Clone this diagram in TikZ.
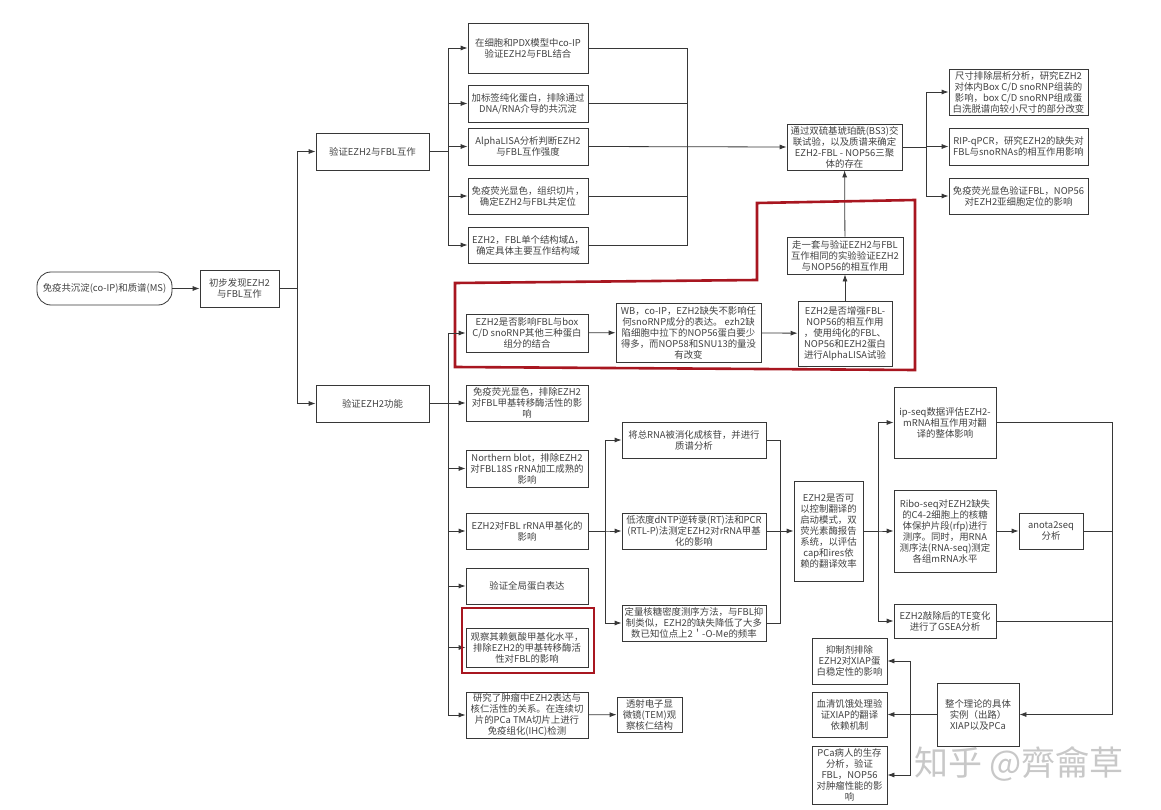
\documentclass[tikz,border=0pt]{standalone}
\usepackage{fontspec}
\setmainfont{Noto Sans CJK SC}
\usepackage{tikz}
\usetikzlibrary{arrows.meta, positioning, calc}
\usepackage{xcolor}
\definecolor{linegray}{RGB}{55,55,55}
\definecolor{textgray}{RGB}{65,65,65}
\definecolor{darkred}{RGB}{168,22,32}
\definecolor{wmgray}{RGB}{200,200,200}

\begin{document}
\begin{tikzpicture}[x=1pt, y=-1pt,
  box/.style={draw=linegray, line width=0.8pt, align=center, inner sep=1pt,
    text=textgray, font=\fontsize{9.4}{11}\selectfont},
  arr/.style={draw=linegray, line width=0.8pt, -{Latex[length=7pt,width=5pt]}},
  ln/.style={draw=linegray, line width=0.8pt},
  redline/.style={draw=darkred, line width=2.6pt}]
  \useasboundingbox (0,0) rectangle (1161,810);

  % start
  \node[box, rounded corners=14pt, minimum width=135pt, minimum height=33pt] (start) at (104.5,288.5) {免疫共沉淀(co-IP)和质谱(MS)};
  \node[box, minimum width=79pt, minimum height=37pt] (first) at (239.5,288.5) {初步发现EZH2\\与FBL互作};
  \node[box, minimum width=113pt, minimum height=37pt] (bind) at (372.5,151.5) {验证EZH2与FBL互作};
  \node[box, minimum width=113pt, minimum height=37pt] (func) at (372.5,403.5) {验证EZH2功能};
  \draw[arr] (start) -- (first);
  \draw[arr] (first.east) -- ++(18,0) |- (bind.west);
  \draw[arr] (first.east) -- ++(18,0) |- (func.west);

  % binding checks
  \node[box, minimum width=120pt, minimum height=50pt] (bindA) at (528,48) {在细胞和PDX模型中co-IP\\验证EZH2与FBL结合};
  \node[box, minimum width=120pt, minimum height=37pt] (bindB) at (528,103.5) {加标签纯化蛋白，排除通过\\DNA/RNA介导的共沉淀};
  \node[box, minimum width=120pt, minimum height=37pt] (bindC) at (528,146.5) {AlphaLISA分析判断EZH2\\与FBL互作强度};
  \node[box, minimum width=120pt, minimum height=36pt] (bindD) at (528,196) {免疫荧光显色，组织切片，\\确定EZH2与FBL共定位};
  \node[box, minimum width=120pt, minimum height=36pt] (bindE) at (528,245) {EZH2，FBL单个结构域Δ，\\确定具体主要互作结构域};
  \foreach \n in {bindA,bindB,bindC,bindD,bindE}
    \draw[arr] (bind.east) -- ++(19,0) |- (\n.west);
  \coordinate (mergeA) at (687,146.5);
  \draw[ln] (bindA.east) -| (mergeA);
  \draw[ln] (bindE.east) -| (mergeA);
  \draw[ln] (bindB.east) -- (bindB.east -| mergeA);
  \draw[ln] (bindD.east) -- (bindD.east -| mergeA);

  % trimer
  \node[box, minimum width=115pt, minimum height=46pt] (trimer) at (844.5,147) {通过双硫基琥珀酰(BS3)交\\联试验，以及质谱来确定\\EZH2-FBL - NOP56三聚\\体的存在};
  \draw[arr] (bindC.east) -- (trimer.west);
  \node[box, minimum width=139pt, minimum height=46pt] (sizeEx) at (1018.5,92) {尺寸排除层析分析，研究EZH2\\对体内Box C/D snoRNP组装的\\影响，box C/D snoRNP组成蛋\\白洗脱谱向较小尺寸的部分改变};
  \node[box, minimum width=139pt, minimum height=37pt] (ripq) at (1018.5,146.5) {RIP-qPCR，研究EZH2的缺失对\\FBL与snoRNAs的相互作用影响};
  \node[box, minimum width=139pt, minimum height=36pt] (ifNop) at (1018.5,196) {免疫荧光显色验证FBL，NOP56\\对EZH2亚细胞定位的影响};
  \foreach \n in {sizeEx,ripq,ifNop}
    \draw[arr] (trimer.east) -- ++(24,0) |- (\n.west);

  % NOP56 part (red frame)
  \node[box, minimum width=116pt, minimum height=37pt] (nopSame) at (845,255.5) {走一套与验证EZH2与FBL\\互作相同的实验验证EZH2\\与NOP56的相互作用};
  \node[box, minimum width=122pt, minimum height=38pt] (snoBind) at (527,333) {EZH2是否影响FBL与box\\C/D snoRNP其他三种蛋白\\组分的结合};
  \node[box, minimum width=145pt, minimum height=59pt] (wbCoip) at (688.5,332.5) {WB，co-IP，EZH2缺失不影响任\\何snoRNP成分的表达。 ezh2缺\\陷细胞中拉下的NOP56蛋白要少\\得多，而NOP58和SNU13的量没\\有改变};
  \node[box, minimum width=94pt, minimum height=65pt] (enhance) at (845,333.5) {EZH2是否增强FBL-\\NOP56的相互作用\\，使用纯化的FBL、\\NOP56和EZH2蛋白\\进行AlphaLISA试验};
  \draw[arr] (snoBind) -- (wbCoip);
  \draw[arr] (wbCoip) -- (enhance);
  \draw[arr] (enhance) -- (nopSame);
  \draw[arr] (nopSame) -- (trimer);
  \draw[redline] (455,283) -- (757,280) -- (757,203) -- (915,200) -- (915,370) -- (455,367) -- cycle;

  % function checks
  \node[box, minimum width=122pt, minimum height=36pt] (mtase) at (527,403) {免疫荧光显色，排除EZH2\\对FBL甲基转移酶活性的影\\响};
  \node[box, minimum width=122pt, minimum height=37pt] (north) at (527,468.5) {Northern blot，排除EZH2\\对FBL18S rRNA加工成熟的\\影响};
  \node[box, minimum width=122pt, minimum height=36pt] (rrna) at (527,531) {EZH2对FBL rRNA甲基化的\\影响};
  \node[box, minimum width=122pt, minimum height=36pt] (global) at (527,586) {验证全局蛋白表达};
  \node[box, minimum width=122pt, minimum height=39pt] (lysine) at (527,647.5) {观察其赖氨酸甲基化水平，\\排除EZH2的甲基转移酶活\\性对FBL的影响};
  \node[box, minimum width=122pt, minimum height=46pt] (tumor) at (527,715) {研究了肿瘤中EZH2表达与\\核仁活性的关系。在连续切\\片的PCa TMA切片上进行\\免疫组化(IHC)检测};
  \node[box, minimum width=65pt, minimum height=35pt] (tem) at (649.5,714.5) {透射电子显\\微镜(TEM)观\\察核仁结构};
  \foreach \n in {snoBind,mtase,north,rrna,global,lysine,tumor}
    \draw[arr] (func.east) -- ++(19,0) |- (\n.west);
  \draw[arr] (tumor) -- (tem);
  \draw[redline] (462,608) rectangle (594,673);

  % rRNA methylation
  \node[box, minimum width=144pt, minimum height=36pt] (massSpec) at (694,440) {将总RNA被消化成核苷，并进行\\质谱分析};
  \node[box, minimum width=144pt, minimum height=36pt] (rtlp) at (694,531) {低浓度dNTP逆转录(RT)法和PCR\\(RTL-P)法测定EZH2对rRNA甲基\\化的影响};
  \node[box, minimum width=144pt, minimum height=36pt] (riboMeth) at (694,623) {定量核糖密度测序方法，与FBL抑\\制类似，EZH2的缺失降低了大多\\数已知位点上2＇-O-Me的频率};
  \foreach \n in {massSpec,rtlp,riboMeth}
    \draw[arr] (rrna.east) -- ++(17,0) |- (\n.west);
  \coordinate (mergeE) at (780,531);
  \draw[ln] (massSpec.east) -| (mergeE);
  \draw[ln] (riboMeth.east) -| (mergeE);

  % translation
  \node[box, minimum width=69pt, minimum height=100pt] (transl) at (828.5,531) {EZH2是否可\\以控制翻译的\\启动模式，双\\荧光素酶报告\\系统，以评估\\cap和ires依\\赖的翻译效率};
  \draw[arr] (rtlp) -- (transl);
  \node[box, minimum width=102pt, minimum height=71pt] (ipseq) at (945,422.5) {ip-seq数据评估EZH2-\\mRNA相互作用对翻\\译的整体影响};
  \node[box, minimum width=102pt, minimum height=82pt] (riboseq) at (945,531) {Ribo-seq对EZH2缺失\\的C4-2细胞上的核糖\\体保护片段(rfp)进行\\测序。同时，用RNA\\测序法(RNA-seq)测定\\各组mRNA水平};
  \node[box, minimum width=102pt, minimum height=34pt] (gsea) at (945,621) {EZH2敲除后的TE变化\\进行了GSEA分析};
  \node[box, minimum width=64pt, minimum height=36pt] (anota) at (1051,531) {anota2seq\\分析};
  \foreach \n in {ipseq,riboseq,gsea}
    \draw[arr] (transl.east) -- ++(15,0) |- (\n.west);
  \draw[arr] (riboseq) -- (anota);

  % XIAP / PCa
  \node[box, minimum width=82pt, minimum height=63pt] (xiap) at (978,714.5) {整个理论的具体\\实例（出路）\\XIAP以及PCa};
  \coordinate (mergeG) at (1112,714.5);
  \draw[ln] (ipseq.east) -| (mergeG);
  \draw[ln] (anota.east) -| (mergeG);
  \draw[ln] (gsea.east) -| (mergeG);
  \draw[arr] (mergeG) -- (xiap.east);
  \node[box, minimum width=75pt, minimum height=46pt] (inhib) at (849.5,661) {抑制剂排除\\EZH2对XIAP蛋\\白稳定性的影响};
  \node[box, minimum width=75pt, minimum height=45pt] (starve) at (849.5,714.5) {血清饥饿处理验\\证XIAP的翻译\\依赖机制};
  \node[box, minimum width=75pt, minimum height=58pt] (surv) at (849.5,775) {PCa病人的生存\\分析，验证\\FBL，NOP56\\对肿瘤性能的影\\响};
  \foreach \n in {inhib,starve,surv}
    \draw[arr] (xiap.west) -- ++(-26,0) |- (\n.east);

  % watermark
  \node[text=wmgray, font=\fontsize{34}{36}\selectfont, anchor=west, inner sep=0pt] (mark) at (914,764) {知乎 @齊龠草};
\end{tikzpicture}
\end{document}
